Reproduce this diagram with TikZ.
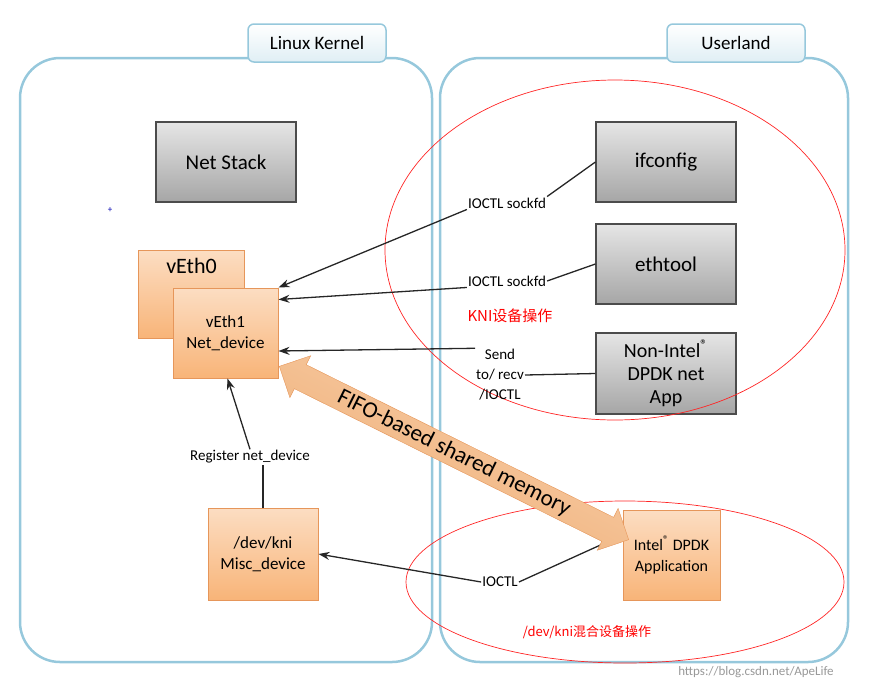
\documentclass[tikz,border=0pt]{standalone}
\usepackage{fontspec}
\setmainfont{Carlito}
\newfontfamily\cjk{Noto Sans CJK SC}
\usetikzlibrary{shapes.geometric,shapes.arrows,arrows.meta}
\definecolor{panelblue}{RGB}{150,200,220}
\definecolor{boxorange}{RGB}{248,180,120}
\definecolor{edgeorange}{RGB}{230,150,90}
\tikzset{
  panel/.style={draw=panelblue,line width=2.5pt,rounded corners=40pt},
  tab/.style={draw=panelblue,line width=1.5pt,rounded corners=6pt,top color=white,bottom color=panelblue!30,
              minimum width=138pt,minimum height=38pt,font=\fontsize{19}{22}\selectfont},
  graybox/.style={draw=black!70,line width=1.2pt,top color=black!10,bottom color=black!35,minimum width=140pt,
                  minimum height=80pt,font=\fontsize{21}{25}\selectfont,align=center},
  orangebox/.style={draw=edgeorange,line width=1pt,top color=boxorange!45,bottom color=boxorange,
                    align=center,font=\fontsize{17}{21}\selectfont},
  lbl/.style={font=\fontsize{15}{20}\selectfont,align=center,inner sep=1pt},
  arr/.style={-{Stealth[length=11pt,width=8pt]},line width=1.3pt,black!85},
  ln/.style={line width=1.3pt,black!85},
  ring/.style={draw=red!85,line width=0.7pt}
}
\begin{document}
\begin{tikzpicture}[x=1pt,y=-1pt]
  \useasboundingbox (0,0) rectangle (872,689);
  % panels
  \draw[panel] (20,58) rectangle (432,662);
  \draw[panel] (440,58) rectangle (848,662);
  \node[tab] (kernel) at (317,43) {Linux Kernel};
  \node[tab] (user) at (736,43) {Userland};
  % kernel side
  \node[graybox] (stack) at (226,162) {Net Stack};
  \node[orangebox,minimum width=106pt,minimum height=88pt,anchor=north west,align=left,
        text height=16pt,text depth=58pt,font=\fontsize{22}{24}\selectfont] (veth0) at (138,250) {vEth0};
  \node[orangebox,minimum width=105pt,minimum height=90pt] (veth1) at (225.5,333) {vEth1\\Net\_device};
  \node[orangebox,minimum width=110pt,minimum height=92pt] (kni) at (263,554) {/dev/kni\\Misc\_device};
  % user side
  \node[graybox] (ifconfig) at (666,162) {ifconfig};
  \node[graybox] (ethtool) at (666,264) {ethtool};
  \node[graybox,minimum height=81pt,font=\fontsize{20}{23}\selectfont] (nonintel) at (666,373.5) {Non-Intel\textsuperscript{\textregistered}\\DPDK net\\App};
  \node[orangebox,minimum width=97pt,minimum height=90pt,font=\fontsize{16}{21}\selectfont] (intel) at (671.5,555) {Intel\textsuperscript{\textregistered} DPDK\\Application};
  % rings
  \draw[ring] (615,250) ellipse (230pt and 170pt);
  \draw[ring] (625,582) ellipse (219pt and 81pt);
  % labels
  \node[lbl] (l1) at (507,203) {IOCTL sockfd};
  \node[lbl] (l2) at (507,281) {IOCTL sockfd};
  \node[lbl] (l3) at (500,375) {Send\\to/ recv\\/IOCTL};
  \node[lbl] (l4) at (250,457) {Register net\_device};
  \node[lbl] (l5) at (500,582) {IOCTL};
  \node[text=red,font=\cjk\fontsize{15}{17}\selectfont] (t1) at (510,316) {KNI设备操作};
  \node[text=red,font=\cjk\fontsize{13}{15}\selectfont] (t2) at (587,632) {/dev/kni混合设备操作};
  \node[text=black!40,font=\fontsize{13}{15}\selectfont] (wm) at (756,672) {https://blog.csdn.net/ApeLife};
  \node[text=blue!70!black,font=\small] (plus) at (110,210) {+};
  % connectors
  \draw[ln] (ifconfig.west) -- (l1.north east);
  \draw[arr] (l1.south west) -- (veth1.north east);
  \draw[ln] (ethtool.west) -- (l2.east);
  \draw[arr] (l2.south west) -- ([yshift=-12pt]veth1.north east);
  \draw[ln] (nonintel.west) -- (l3.east);
  \draw[arr] (l3.north west) -- ([yshift=-18pt]veth1.east);
  \draw[ln] (kni.north) -- (l4.south -| kni.north);
  \draw[arr] (l4.north) -- ([xshift=2pt]veth1.south);
  \draw[ln] ([yshift=20pt]intel.west) -- (l5.east);
  \draw[arr] (l5.west) -- (kni.east);
  % shared memory
  \node[double arrow,double arrow head extend=10pt,minimum height=390pt,minimum width=40pt,
        rotate=-26.4,draw=edgeorange,left color=boxorange!60,right color=boxorange!95!black,
        shading angle=-26.4,font=\fontsize{23}{26}\selectfont] (fifo) at (454,453) {FIFO-based shared memory};
\end{tikzpicture}
\end{document}
